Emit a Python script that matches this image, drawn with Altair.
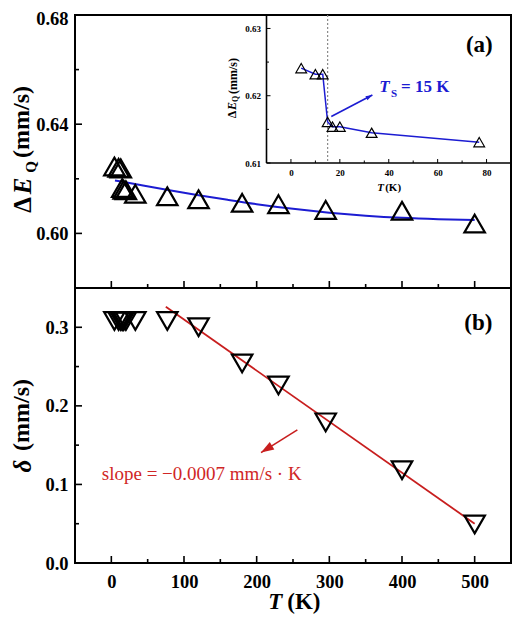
import altair as alt
import pandas as pd

FONT = "Liberation Serif"
LEFT_IMG, TOP_IMG = 75, 15          # where the plot frame starts on the page
W, H = 436, 548                     # whole frame (both panels)
HA = 288 - TOP_IMG                  # bottom of panel (a)
IB = 163 - TOP_IMG                  # bottom of inset


def px(x):
    """horizontal position inside the frame (reference pixels -> chart)"""
    return round((x - LEFT_IMG) * W / 440.0, 1)


def lx(x):
    """horizontal position left of the frame"""
    return x - LEFT_IMG


def py(y):
    return y - TOP_IMG


IL = px(268.3)       # left of inset

BLUE = "#1c1cd2"
RED = "#c81e1e"

# ---------------- data ----------------
T_main = [4.2, 10, 13, 15, 17, 20, 33, 77, 120, 180, 230, 295, 400, 500]
dEQ_main = [0.6245, 0.6240, 0.6238, 0.6166, 0.6160, 0.6158, 0.6145, 0.6136,
            0.6125, 0.6112, 0.6107, 0.6086, 0.6083, 0.6036]
delta_main = [0.308, 0.308, 0.308, 0.308, 0.308, 0.308, 0.308, 0.308,
              0.300, 0.254, 0.226, 0.179, 0.118, 0.049]

fit_T = [5, 40, 80, 120, 160, 200, 250, 300, 350, 400, 450, 500]
fit_dEQ = [0.6194, 0.6177, 0.6158, 0.6140, 0.6123, 0.6107, 0.6090, 0.6076,
           0.6065, 0.6057, 0.6052, 0.6049]

slope_T = [75, 500]
slope_delta = [0.326, 0.050]

T_inset = [4.2, 10, 13, 15, 17, 20, 33, 77]
dEQ_inset = [0.6241, 0.6232, 0.6232, 0.6161, 0.6154, 0.6154, 0.6145, 0.6131]
T_S = [15]

arrow_in_T = [16.5, 33.3]
arrow_in_dEQ = [0.6169, 0.6201]
arrow_b_T = [256, 206]
arrow_b_delta = [0.1694, 0.1405]

# tick values
x_major = [0, 100, 200, 300, 400, 500]
x_minor = [50, 150, 250, 350, 450]
ya_major = [0.60, 0.64, 0.68]
ya_minor = [0.62, 0.66]
yb_major = [0.0, 0.1, 0.2, 0.3]
yb_minor = [0.05, 0.15, 0.25]
xi_major = [0, 20, 40, 60, 80]
xi_minor = [10, 30, 50, 70]
yi_major = [0.61, 0.62, 0.63]
yi_minor = [0.615, 0.625]

# ---------------- scales / axes ----------------
sx = alt.Scale(domain=[-50, 550], range=[0, W], nice=False, zero=False)
sya = alt.Scale(domain=[0.58, 0.68], range=[HA, 0], nice=False, zero=False)
syb = alt.Scale(domain=[0, 0.35], range=[H, HA], nice=False, zero=False)
sxi = alt.Scale(domain=[-10, 90], range=[IL, W], nice=False, zero=False)
syi = alt.Scale(domain=[0.61, 0.632], range=[IB, 0], nice=False, zero=False)


def axis(orient, values, fmt, size, pad, offset=0, **kw):
    return alt.Axis(orient=orient, values=values, format=fmt, title=None,
                    ticks=False, domain=False, grid=False, labelFontSize=size,
                    labelPadding=pad, offset=offset, labelFlush=False,
                    labelOverlap=False, labelFont=FONT, labelFontWeight="bold",
                    labelColor="black", **kw)


# the top label is nudged down a little so that it stays inside the page
ax_a_y = axis("left", ya_major, ".2f", 18.5, 7,
              labelOffset={"condition": {"test": "datum.value > 0.67",
                                         "value": 3}, "value": 0})
ax_b_x = axis("bottom", x_major, "d", 18.5, 9)
ax_b_y = axis("left", yb_major, ".1f", 18.5, 7)
ax_i_x = axis("bottom", xi_major, "d", 9, 5, offset=IB - H)
ax_i_y = axis("left", yi_major, ".2f", 9, 6, offset=-IL)

TRI_UP = "M0,-0.866L1,0.866L-1,0.866Z"
TRI_DN = "M0,0.866L1,-0.866L-1,-0.866Z"
HEAD = "M0,0L0.5,1.5L-0.5,1.5Z"

one = pd.DataFrame({"k": [0]})


def vals(v):
    return pd.DataFrame({"v": v})


def xticks(v, sc, ax, y0, y1, sw):
    return alt.Chart(vals(v)).mark_rule(color="black", strokeWidth=sw).encode(
        x=alt.X("v:Q", scale=sc, axis=ax), y=alt.value(y0), y2=alt.value(y1))


def yticks(v, sc, ax, x0, x1, sw):
    return alt.Chart(vals(v)).mark_rule(color="black", strokeWidth=sw).encode(
        y=alt.Y("v:Q", scale=sc, axis=ax), x=alt.value(x0), x2=alt.value(x1))


def vline(x, y0, y1, sw=2, color="black"):
    return alt.Chart(one).mark_rule(color=color, strokeWidth=sw).encode(
        x=alt.value(x), y=alt.value(y0), y2=alt.value(y1))


def hline(y, x0, x1, sw=2, color="black"):
    return alt.Chart(one).mark_rule(color=color, strokeWidth=sw).encode(
        y=alt.value(y), x=alt.value(x0), x2=alt.value(x1))


def label(text, x, y, size, weight="bold", style="normal", angle=0,
          align="center", baseline="middle", color="black"):
    return alt.Chart(one).mark_text(
        text=text, font=FONT, fontSize=size, fontWeight=weight,
        fontStyle=style, angle=angle, align=align, baseline=baseline,
        color=color).encode(x=alt.value(x), y=alt.value(y))


main_df = pd.DataFrame({"T": T_main, "dEQ": dEQ_main, "delta": delta_main})
fit_df = pd.DataFrame({"T": fit_T, "dEQ": fit_dEQ})
slope_df = pd.DataFrame({"T": slope_T, "delta": slope_delta})
inset_df = pd.DataFrame({"T": T_inset, "dEQ": dEQ_inset})
ts_df = pd.DataFrame({"T": T_S})
arr_in_df = pd.DataFrame({"T": arrow_in_T, "dEQ": arrow_in_dEQ})
arr_b_df = pd.DataFrame({"T": arrow_b_T, "delta": arrow_b_delta})

# ---------------- panel (a) ----------------
xa = alt.X("T:Q", scale=sx, axis=None)
ya = alt.Y("dEQ:Q", scale=sya, axis=ax_a_y)
panelA = alt.layer(
    alt.Chart(fit_df).mark_line(color=BLUE, strokeWidth=2,
                                interpolate="monotone").encode(x=xa, y=ya),
    alt.Chart(main_df).mark_point(shape=TRI_UP, size=420, filled=False,
                                  color="black", strokeWidth=2.2,
                                  opacity=1).encode(x=xa, y=ya),
    yticks(ya_major, sya, ax_a_y, 0, 7, 1.6),
    yticks(ya_minor, sya, ax_a_y, 0, 4, 1.6),
    xticks(x_major, sx, None, HA - 7, HA, 1.6),
    xticks(x_minor, sx, None, HA - 4, HA, 1.6),
    hline(HA, 0, W, 2),
)

# ---------------- panel (b) ----------------
xb = alt.X("T:Q", scale=sx, axis=ax_b_x)
yb = alt.Y("delta:Q", scale=syb, axis=ax_b_y)
panelB = alt.layer(
    alt.Chart(slope_df).mark_line(color=RED, strokeWidth=1.8).encode(x=xb, y=yb),
    alt.Chart(main_df).mark_point(shape=TRI_DN, size=420, filled=False,
                                  color="black", strokeWidth=2.2,
                                  opacity=1).encode(x=xb, y=yb),
    alt.Chart(arr_b_df).mark_line(color=RED, strokeWidth=1.6).encode(x=xb, y=yb),
    alt.Chart(arr_b_df.tail(1)).mark_point(shape=HEAD, size=300, filled=True,
                                           color=RED, opacity=1,
                                           angle=238).encode(x=xb, y=yb),
    yticks(yb_major, syb, ax_b_y, 0, 7, 1.6),
    yticks(yb_minor, syb, ax_b_y, 0, 4, 1.6),
    xticks(x_major, sx, ax_b_x, H - 7, H, 1.6),
    xticks(x_minor, sx, ax_b_x, H - 4, H, 1.6),
)

# ---------------- inset ----------------
xi = alt.X("T:Q", scale=sxi, axis=ax_i_x)
yi = alt.Y("dEQ:Q", scale=syi, axis=ax_i_y)
inset = alt.layer(
    alt.Chart(ts_df).mark_rule(color="#8a8a8a", strokeDash=[2, 2],
                               strokeWidth=1.2).encode(
        x=xi, y=alt.value(0), y2=alt.value(IB)),
    alt.Chart(inset_df).mark_line(color=BLUE, strokeWidth=1.5).encode(x=xi, y=yi),
    alt.Chart(inset_df).mark_point(shape=TRI_UP, size=115, filled=False,
                                   color="black", strokeWidth=1.2,
                                   opacity=1).encode(x=xi, y=yi),
    alt.Chart(arr_in_df).mark_line(color=BLUE, strokeWidth=1.6).encode(x=xi, y=yi),
    alt.Chart(arr_in_df.tail(1)).mark_point(shape=HEAD, size=80, filled=True,
                                            color=BLUE, opacity=1,
                                            angle=62).encode(x=xi, y=yi),
    xticks(xi_major, sxi, ax_i_x, IB - 4, IB, 1),
    xticks(xi_minor, sxi, ax_i_x, IB - 2.5, IB, 1),
    yticks(yi_major, syi, ax_i_y, IL, IL + 4, 1),
    yticks(yi_minor, syi, ax_i_y, IL, IL + 2.5, 1),
    vline(IL, 0, IB, 1.6),
    hline(IB, IL, W, 1.6),
)

# ---------------- text (positions in reference pixels) ----------------
texts = [
    # panel (a) y title: ΔE_Q (mm/s)
    label("(mm/s)", lx(22), py(122), 24, angle=270),
    label("Q", lx(31), py(167), 15, angle=270),
    label("E", lx(22.5), py(186), 25, style="italic", angle=270),
    label("Δ", lx(22.5), py(205), 25, angle=270),
    # panel (b) y title: δ (mm/s)
    label("(mm/s)", lx(22), py(415), 24, angle=270),
    label("δ", lx(22.5), py(466), 25, style="italic", angle=270),
    # x title: T (K)
    label("T", px(277), py(602), 23, style="italic"),
    label("(K)", px(306), py(602), 23),
    # panel labels
    label("(a)", px(483), py(45), 23),
    label("(b)", px(482), py(323), 23),
    # inset titles
    label("(mm/s)", px(234), py(76), 12, angle=270),
    label("Q", px(237), py(99), 8, angle=270),
    label("E", px(233), py(106), 12, style="italic", angle=270),
    label("Δ", px(233), py(114.5), 12, angle=270),
    label("T", px(383.5), py(188), 11, style="italic"),
    label("(K)", px(396), py(188), 11),
    # T_S = 15 K
    label("T", px(382), py(92), 17, style="italic", align="left",
          baseline="alphabetic", color=BLUE),
    label("S", px(394), py(97), 11, align="left", baseline="alphabetic",
          color=BLUE),
    label("= 15 K", px(404), py(92), 17, align="left", baseline="alphabetic",
          color=BLUE),
    # slope annotation
    label("slope = \u22120.0007 mm/s \u00b7 K", px(102), py(480), 19,
          weight="normal", align="left", baseline="alphabetic",
          color="#d02626"),
]

chart = alt.layer(panelA, panelB, inset, *texts).resolve_scale(
    x="independent", y="independent"
).properties(
    width=W, height=H,
    padding={"left": LEFT_IMG - 8, "top": TOP_IMG - 8, "right": 1, "bottom": 51},
    autosize=alt.AutoSizeParams(type="none"),
).configure_view(
    stroke="black", strokeWidth=2
).configure_axis(
    labelFont=FONT, labelFontWeight="bold", labelColor="black", grid=False
)

chart.save("out.html", embed_options={"renderer": "svg", "actions": False})
